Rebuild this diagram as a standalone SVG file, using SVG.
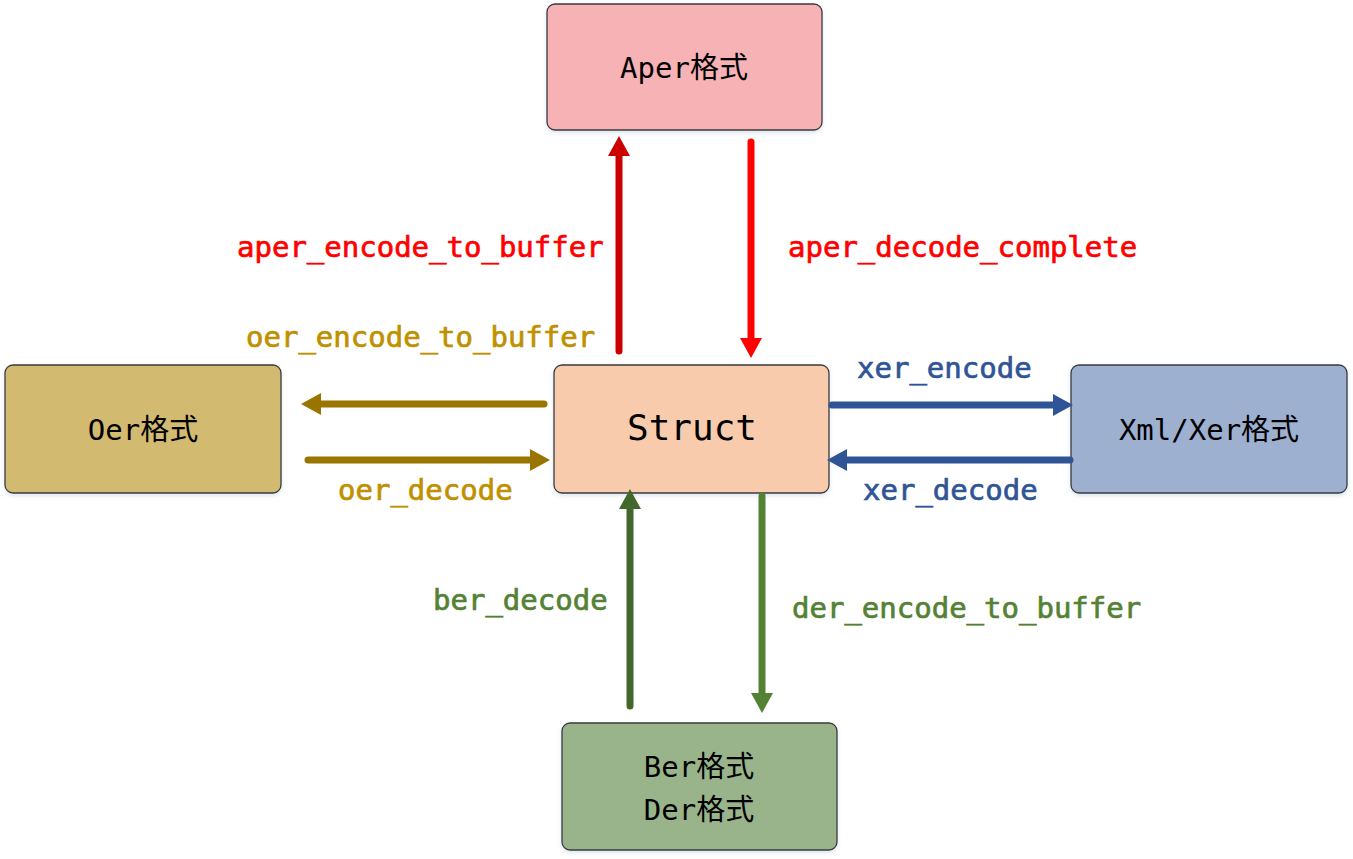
<svg xmlns="http://www.w3.org/2000/svg" width="1353" height="859" viewBox="0 0 1353 859">
<style>
.box{stroke:#3a3a3a;stroke-width:1.3}
.nt{font-family:"DejaVu Sans Mono","Liberation Mono","Noto Sans CJK SC",monospace;font-size:29px;fill:#000;text-anchor:middle}
.lb{font-family:"DejaVu Sans Mono","Liberation Mono",monospace;font-size:29px;stroke-width:0.7}
.ar{fill:none;stroke-width:7;stroke-linecap:round}
</style>
<defs>
<filter id="sh" x="-5%" y="-5%" width="110%" height="115%">
<feDropShadow dx="0" dy="2" stdDeviation="2" flood-color="#7090c0" flood-opacity="0.25"/>
</filter>
<marker id="mR1" markerUnits="userSpaceOnUse" markerWidth="20" markerHeight="22" viewBox="0 0 20 22" refX="0" refY="11" orient="auto"><path d="M0,0 L20,11 L0,22 z" fill="#CC0000"/></marker>
<marker id="mR2" markerUnits="userSpaceOnUse" markerWidth="20" markerHeight="22" viewBox="0 0 20 22" refX="0" refY="11" orient="auto"><path d="M0,0 L20,11 L0,22 z" fill="#FF0000"/></marker>
<marker id="mO" markerUnits="userSpaceOnUse" markerWidth="20" markerHeight="22" viewBox="0 0 20 22" refX="0" refY="11" orient="auto"><path d="M0,0 L20,11 L0,22 z" fill="#9A7400"/></marker>
<marker id="mB" markerUnits="userSpaceOnUse" markerWidth="20" markerHeight="22" viewBox="0 0 20 22" refX="0" refY="11" orient="auto"><path d="M0,0 L20,11 L0,22 z" fill="#2F5597"/></marker>
<marker id="mG1" markerUnits="userSpaceOnUse" markerWidth="20" markerHeight="22" viewBox="0 0 20 22" refX="0" refY="11" orient="auto"><path d="M0,0 L20,11 L0,22 z" fill="#43682B"/></marker>
<marker id="mG2" markerUnits="userSpaceOnUse" markerWidth="20" markerHeight="22" viewBox="0 0 20 22" refX="0" refY="11" orient="auto"><path d="M0,0 L20,11 L0,22 z" fill="#548235"/></marker>
</defs>
<rect width="1353" height="859" fill="#fff"/>

<g id="node-aper">
<rect class="box" x="547" y="4" width="275" height="126" rx="8" fill="#F7B2B5" filter="url(#sh)"/>
<text class="nt" x="684" y="78">Aper格式</text>
</g>
<g id="node-struct">
<rect class="box" x="554" y="365" width="275" height="128" rx="8" fill="#F8CBAD" filter="url(#sh)"/>
<text class="nt" x="692" y="440" style="font-size:36px">Struct</text>
</g>
<g id="node-oer">
<rect class="box" x="5" y="365" width="276" height="128" rx="8" fill="#D2BB6F" filter="url(#sh)"/>
<text class="nt" x="143" y="440">Oer格式</text>
</g>
<g id="node-xer">
<rect class="box" x="1071" y="365" width="276" height="128" rx="8" fill="#9EB0D0" filter="url(#sh)"/>
<text class="nt" x="1209" y="440">Xml/Xer格式</text>
</g>
<g id="node-ber">
<rect class="box" x="562" y="723" width="275" height="127" rx="8" fill="#99B48B" filter="url(#sh)"/>
<text class="nt" x="699" y="777">Ber格式</text>
<text class="nt" x="699" y="820">Der格式</text>
</g>

<g id="connectors">
<path class="ar" d="M619,351 L619,156" stroke="#CC0000" marker-end="url(#mR1)"/>
<path class="ar" d="M751,142 L751,338" stroke="#FF0000" marker-end="url(#mR2)"/>
<path class="ar" d="M544,404 L321,404" stroke="#9A7400" marker-end="url(#mO)"/>
<path class="ar" d="M308,460 L530,460" stroke="#9A7400" marker-end="url(#mO)"/>
<path class="ar" d="M832,405 L1053,405" stroke="#2F5597" marker-end="url(#mB)"/>
<path class="ar" d="M1070,460 L847,460" stroke="#2F5597" marker-end="url(#mB)"/>
<path class="ar" d="M630,706 L630,509" stroke="#43682B" marker-end="url(#mG1)"/>
<path class="ar" d="M762,496 L762,693" stroke="#548235" marker-end="url(#mG2)"/>

<text class="lb" x="237" y="257" fill="#FF0000" stroke="#FF0000">aper_encode_to_buffer</text>
<text class="lb" x="788" y="257" fill="#FF0000" stroke="#FF0000">aper_decode_complete</text>
<text class="lb" x="246" y="347" fill="#BF9000" stroke="#BF9000">oer_encode_to_buffer</text>
<text class="lb" x="338" y="500" fill="#BF9000" stroke="#BF9000">oer_decode</text>
<text class="lb" x="857" y="378" fill="#2F5597" stroke="#2F5597">xer_encode</text>
<text class="lb" x="863" y="500" fill="#2F5597" stroke="#2F5597">xer_decode</text>
<text class="lb" x="433" y="610" fill="#548235" stroke="#548235">ber_decode</text>
<text class="lb" x="792" y="618" fill="#548235" stroke="#548235">der_encode_to_buffer</text>
</g>
</svg>
